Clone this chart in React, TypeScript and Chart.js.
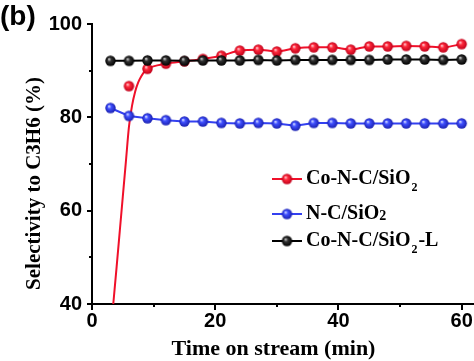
import React, { useEffect, useRef } from 'react';
import { Chart, registerables } from 'chart.js';

Chart.register(...registerables);

// ---- Data ----
const sampleTimes = [3, 6, 9, 12, 15, 18, 21, 24, 27, 30, 33, 36, 39, 42, 45, 48, 51, 54, 57, 60];
const blackValues = [92.1, 92.1, 92.2, 92.2, 92.1, 92.2, 92.2, 92.2, 92.3, 92.2, 92.3, 92.3, 92.3, 92.3, 92.3, 92.4, 92.4, 92.4, 92.3, 92.4];
const blueValues = [82.0, 80.3, 79.8, 79.4, 79.1, 79.1, 78.8, 78.7, 78.8, 78.7, 78.2, 78.8, 78.8, 78.7, 78.7, 78.7, 78.7, 78.7, 78.7, 78.7];
const redTimes = [6, 9, 12, 15, 18, 21, 24, 27, 30, 33, 36, 39, 42, 45, 48, 51, 54, 57, 60];
const redValues = [86.7, 90.4, 91.5, 92.0, 92.5, 93.2, 94.3, 94.5, 94.1, 94.8, 95.0, 95.0, 94.5, 95.2, 95.2, 95.3, 95.2, 95.0, 95.7];
// fitted start-up curve of the red series
const fitTimes = [3, 3.5, 4, 4.5, 5, 5.5, 6, 6.5, 7, 7.5, 8, 8.5];
const fitValues = [33.4, 40.7, 48, 55.5, 63, 70.5, 78, 82.5, 85.5, 87.5, 88.8, 89.8];

const xTicks = [0, 20, 40, 60];
const yTicks = [40, 60, 80, 100];
const legendLabels = ['Co-N-C/SiO2', 'N-C/SiO2', 'Co-N-C/SiO2-L'];
const xTitle = 'Time on stream (min)';
const yTitle = 'Selectivity to C3H6 (%)';
const panelLabel = '(b)';

const RED = '#f0102a';
const BLUE = '#3340f0';
const BLACK = '#000000';

function makeSphere(color: string, dark: string, hi: string, r: number) {
  const size = Math.ceil(r * 2) + 2;
  const c = document.createElement('canvas');
  c.width = size;
  c.height = size;
  const ctx = c.getContext('2d')!;
  const cx = size / 2;
  const cy = size / 2;
  const g = ctx.createRadialGradient(cx - r * 0.3, cy - r * 0.35, r * 0.05, cx, cy, r);
  g.addColorStop(0, hi);
  g.addColorStop(0.35, color);
  g.addColorStop(1, dark);
  ctx.fillStyle = g;
  ctx.beginPath();
  ctx.arc(cx, cy, r, 0, Math.PI * 2);
  ctx.fill();
  return c;
}

export default function App() {
  const ref = useRef<HTMLCanvasElement | null>(null);

  useEffect(() => {
    document.body.style.margin = '0';
    const canvas = ref.current!;
    const redBall = makeSphere('#ff2a3c', '#c0001a', '#ffd0d8', 5.2);
    const blueBall = makeSphere('#4050ff', '#1a20b0', '#d8e0ff', 5.2);
    const blackBall = makeSphere('#333333', '#000000', '#d0d0d0', 5.2);

    const serif = '"Liberation Serif", "Times New Roman", serif';
    const sans = '"Liberation Sans", Arial, sans-serif';

    // stretch the plot area to the right edge of the canvas (as in the reference)
    const stretch = {
      id: 'stretch',
      afterLayout(chart: any) {
        const xs = chart.scales.x;
        const right = chart.width;
        chart.chartArea.right = right;
        chart.chartArea.width = right - chart.chartArea.left;
        xs.right = right;
        xs.width = right - xs.left;
        xs.configure();
      },
    };

    const decor = {
      id: 'decor',
      afterDraw(chart: any) {
        const ctx = chart.ctx as CanvasRenderingContext2D;
        const xs = chart.scales.x;
        const ys = chart.scales.y;
        ctx.save();
        ctx.strokeStyle = '#000';
        ctx.lineWidth = 2;
        // ticks
        for (let v = 0; v <= 60; v += 10) {
          const px = Math.round(xs.getPixelForValue(v));
          const len = v % 20 === 0 ? 6 : 3;
          ctx.beginPath();
          ctx.moveTo(px, ys.bottom);
          ctx.lineTo(px, ys.bottom + len);
          ctx.stroke();
        }
        for (let v = 40; v <= 100; v += 10) {
          const py = Math.round(ys.getPixelForValue(v));
          const len = v % 20 === 0 ? 5 : 3;
          ctx.beginPath();
          ctx.moveTo(xs.left, py);
          ctx.lineTo(xs.left - len, py);
          ctx.stroke();
        }
        // panel label
        ctx.fillStyle = '#000';
        ctx.font = `bold 28px ${sans}`;
        ctx.textAlign = 'left';
        ctx.textBaseline = 'alphabetic';
        ctx.fillText(panelLabel, 0, 25);
        // axis titles
        ctx.font = `bold 22px ${serif}`;
        ctx.textAlign = 'center';
        ctx.fillText(xTitle, 273.5, 355);
        ctx.save();
        ctx.translate(40, 183.5);
        ctx.rotate(-Math.PI / 2);
        ctx.font = `bold 21px ${serif}`;
        ctx.fillText(yTitle, 0, 0);
        ctx.restore();
        // legend
        const rows = [
          { y: 179, color: RED, ball: redBall, label: legendLabels[0], mode: 'sub' },
          { y: 214, color: BLUE, ball: blueBall, label: legendLabels[1], mode: 'small' },
          { y: 241, color: BLACK, ball: blackBall, label: legendLabels[2], mode: 'sub' },
        ];
        ctx.textAlign = 'left';
        for (const r of rows) {
          ctx.strokeStyle = r.color;
          ctx.lineWidth = 2;
          ctx.beginPath();
          ctx.moveTo(272, r.y);
          ctx.lineTo(302, r.y);
          ctx.stroke();
          ctx.drawImage(r.ball, 287 - r.ball.width / 2, r.y - r.ball.height / 2);
          const base = r.y + 5;
          const idx = r.label.indexOf('2');
          const pre = r.label.slice(0, idx);
          const post = r.label.slice(idx + 1);
          let x = 306;
          ctx.fillStyle = '#000';
          ctx.font = `bold 20px ${serif}`;
          ctx.fillText(pre, x, base);
          x += ctx.measureText(pre).width;
          if (r.mode === 'sub') {
            ctx.font = `bold 12px ${serif}`;
            ctx.fillText('2', x + 1, base + 7);
            x += ctx.measureText('2').width + 2;
          } else {
            ctx.font = `bold 14px ${serif}`;
            ctx.fillText('2', x, base + 1);
            x += ctx.measureText('2').width;
          }
          if (post) {
            ctx.font = `bold 20px ${serif}`;
            ctx.fillText(post, x, base);
          }
        }
        ctx.restore();
      },
    };

    const redCurve = fitTimes
      .map((t, i) => ({ x: t, y: fitValues[i] }))
      .concat(redTimes.map((t, i) => ({ x: t, y: redValues[i] })).filter((p) => p.x >= 9));

    const chart = new Chart(canvas, {
      type: 'line',
      data: {
        datasets: [
          {
            label: legendLabels[2],
            data: sampleTimes.map((t, i) => ({ x: t, y: blackValues[i] })),
            borderColor: BLACK,
            borderWidth: 2,
            pointStyle: blackBall as any,
            pointRadius: 5,
            tension: 0,
          },
          {
            label: legendLabels[1],
            data: sampleTimes.map((t, i) => ({ x: t, y: blueValues[i] })),
            borderColor: BLUE,
            borderWidth: 2,
            pointStyle: blueBall as any,
            pointRadius: 5,
            tension: 0,
          },
          {
            label: legendLabels[0],
            data: redTimes.map((t, i) => ({ x: t, y: redValues[i] })),
            showLine: false,
            pointStyle: redBall as any,
            pointRadius: 5,
          },
          {
            label: 'fit',
            data: redCurve,
            borderColor: RED,
            borderWidth: 2,
            pointRadius: 0,
            cubicInterpolationMode: 'monotone',
            clip: 0 as any,
          },
        ],
      },
      options: {
        animation: false,
        responsive: false,
        events: [],
        layout: { padding: { top: 24, left: 0, right: 0, bottom: 0 } },
        plugins: { legend: { display: false }, tooltip: { enabled: false } },
        scales: {
          x: {
            type: 'linear',
            min: 0,
            max: 62,
            afterBuildTicks: (s: any) => {
              s.ticks = xTicks.map((v) => ({ value: v }));
            },
            afterFit: (s: any) => {
              s.height = 57;
            },
            grid: { display: false, drawTicks: false },
            border: { display: true, color: '#000', width: 2 },
            ticks: {
              color: '#000',
              font: { family: sans, size: 20, weight: 'bold' },
              padding: 5,
              maxRotation: 0,
            },
          },
          y: {
            type: 'linear',
            min: 40,
            max: 100,
            afterBuildTicks: (s: any) => {
              s.ticks = yTicks.map((v) => ({ value: v }));
            },
            afterFit: (s: any) => {
              s.width = 92;
            },
            grid: { display: false, drawTicks: false },
            border: { display: true, color: '#000', width: 2 },
            ticks: {
              color: '#000',
              font: { family: sans, size: 20, weight: 'bold' },
              padding: 10,
            },
          },
        },
      },
      plugins: [stretch, decor],
    });
    return () => chart.destroy();
  }, []);

  return (
    <div style={{ position: 'absolute', left: 0, top: 0, width: 474, height: 361 }}>
      <canvas ref={ref} width={474} height={361} style={{ width: 474, height: 361, display: 'block' }} />
    </div>
  );
}
